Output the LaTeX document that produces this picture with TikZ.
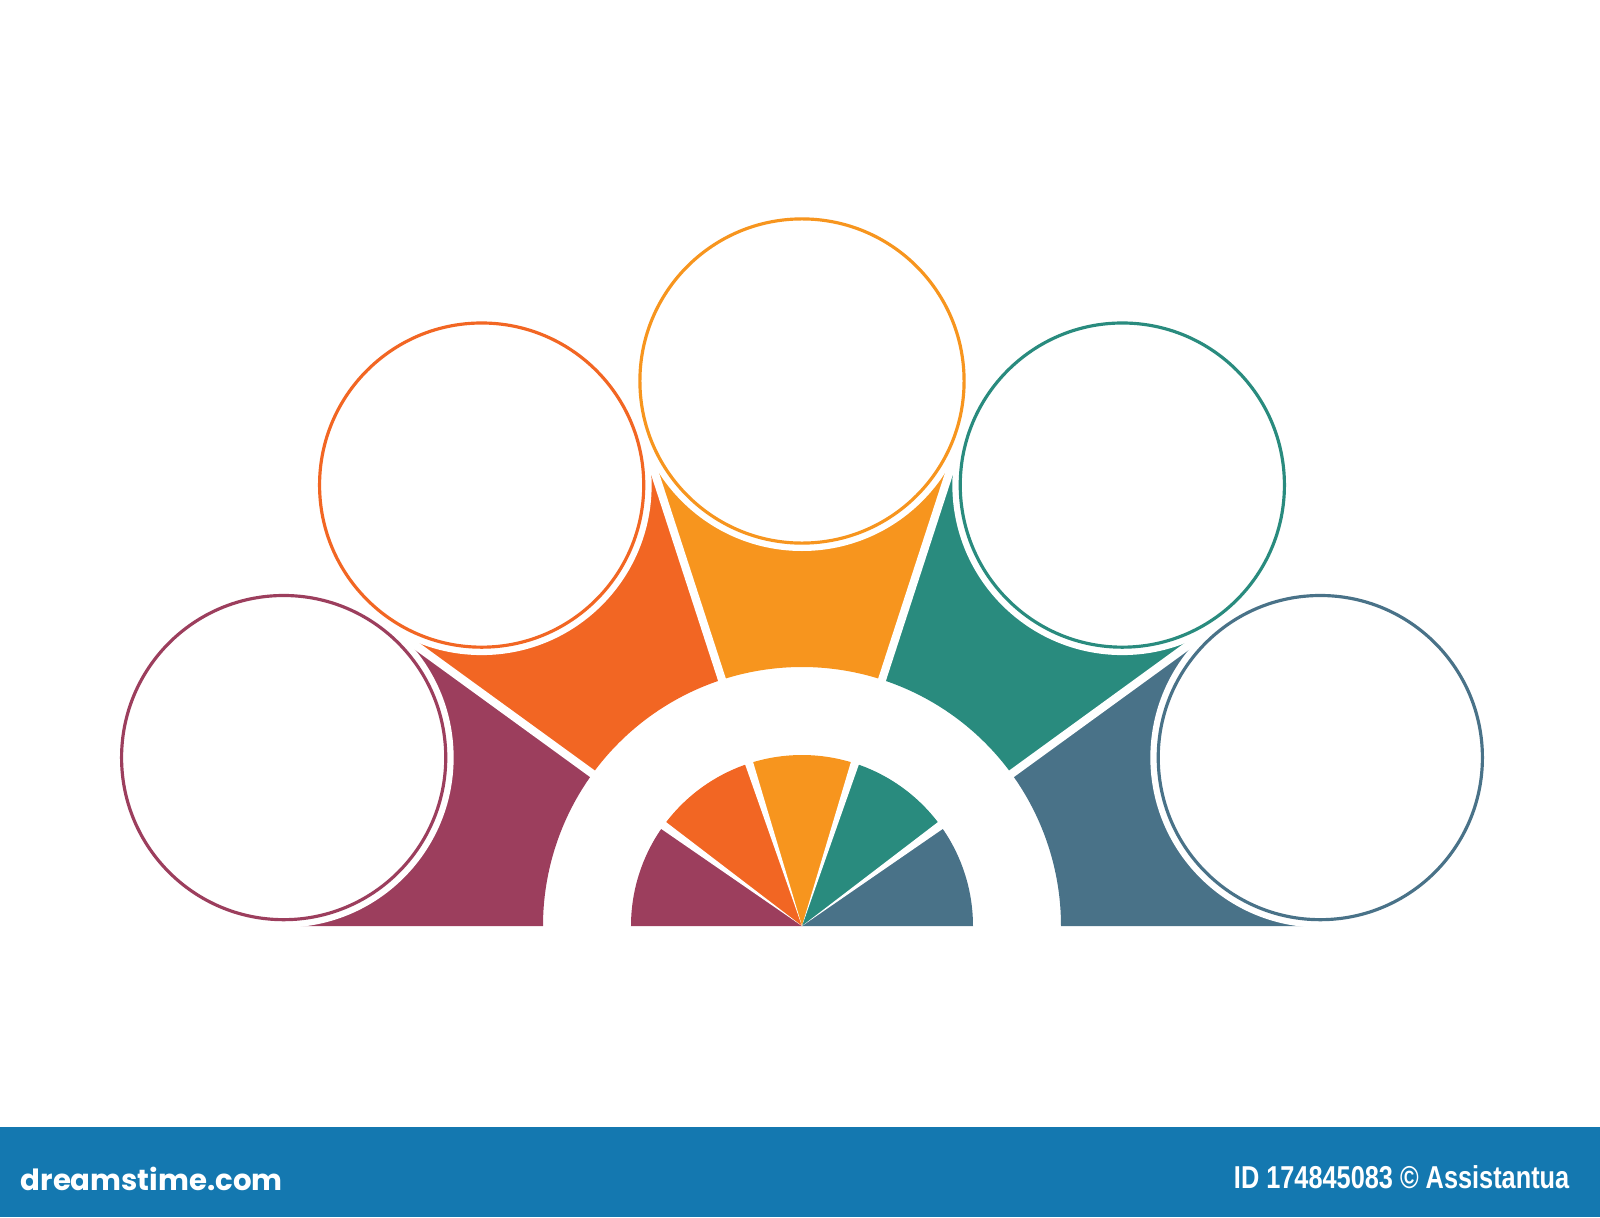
\documentclass[tikz,border=0pt]{standalone}
\usepackage{fontspec}
\usepackage{tikz}
\newfontfamily\logoFont{Poppins}
\newfontfamily\idFont{Liberation Sans}
\definecolor{purpleStep}{RGB}{156,62,93}
\definecolor{orangeStep}{RGB}{242,102,35}
\definecolor{yellowStep}{RGB}{247,149,30}
\definecolor{tealStep}{RGB}{41,139,126}
\definecolor{blueStep}{RGB}{73,114,136}
\definecolor{bannerBlue}{RGB}{20,120,176}
\tikzstyle{fanDiagram} = [x = 0.01cm, y = 0.01cm]
\tikzstyle{gapLine} = [color=white, line width=2.3pt]
\tikzstyle{bubbleRing} = [circle, inner sep=0, line width=0.9pt, minimum size=3.24cm]
\tikzstyle{bannerText} = [color=white, inner sep=0]
\newcommand{\ringRadius}{259}
\newcommand{\hubRadius}{171}
\newcommand{\bubbleDist}{545}
\newcommand{\petal}[2]{
  \pgfmathsetmacro{\lowAngle}{#1 - 18}
  \pgfmathsetmacro{\highAngle}{#1 + 18}
  \fill [#2] (\lowAngle:\ringRadius) -- (\lowAngle:518) -- (#1:\bubbleDist) -- (\highAngle:518) -- (\highAngle:\ringRadius)
    arc [start angle=\highAngle, end angle=\lowAngle, radius=\ringRadius] -- cycle;
  \fill [#2] (0,0) -- (\lowAngle:\hubRadius) arc [start angle=\lowAngle, end angle=\highAngle, radius=\hubRadius] -- cycle;
}
\newcommand{\bubble}[3]{
  \fill [white] (#2:\bubbleDist) circle (170);
  \node [bubbleRing, draw=#3] (#1) at (#2:\bubbleDist) {};
}

\begin{document}
\begin{tikzpicture}[fanDiagram]
  \useasboundingbox (-802,-291) rectangle (798,926);
  \foreach \mid/\col in {162/purpleStep, 126/orangeStep, 90/yellowStep, 54/tealStep, 18/blueStep} {
    \petal{\mid}{\col}
  }
  \foreach \gap in {36,72,108,144} {
    \draw [gapLine] (\gap:\ringRadius - 5) -- (\gap:530);
    \fill [white] (0,0) -- (\gap - 1.4:\hubRadius + 5) -- (\gap + 1.4:\hubRadius + 5) -- cycle;
  }
  \bubble{purpleBubble}{162}{purpleStep}
  \bubble{orangeBubble}{126}{orangeStep}
  \bubble{yellowBubble}{90}{yellowStep}
  \bubble{tealBubble}{54}{tealStep}
  \bubble{blueBubble}{18}{blueStep}

  \fill [bannerBlue] (-802,-291) rectangle (798,-201);
  \node [bannerText, anchor=base west] (logoText) at (-782,-264) {\logoFont\bfseries\fontsize{8.3}{10}\selectfont dreamstime.com};
  \node [bannerText, anchor=base east] (idText) at (768,-262) {\scalebox{0.8}[1]{\idFont\bfseries\fontsize{9}{10}\selectfont ID 174845083 © Assistantua}};
\end{tikzpicture}
\end{document}
